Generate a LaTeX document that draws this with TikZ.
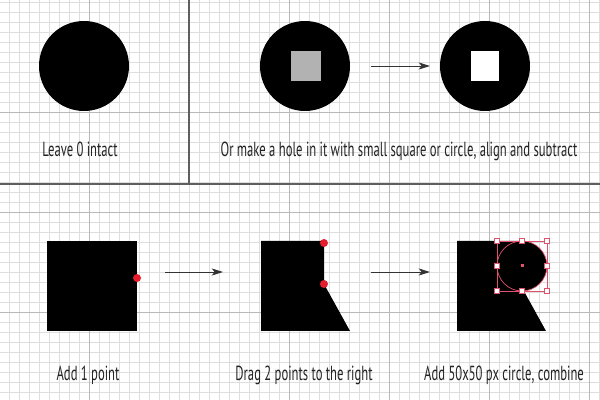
\documentclass[tikz,border=0pt]{standalone}
\usepackage{fontspec}
\setmainfont{PT Sans}[FakeStretch=0.62]
\usetikzlibrary{arrows.meta}
\definecolor{gridminor}{RGB}{222,222,222}
\definecolor{gridmajor}{RGB}{185,185,185}
\definecolor{divider}{RGB}{95,95,95}
\definecolor{pointred}{RGB}{228,28,44}
\definecolor{selpink}{RGB}{222,82,108}
\definecolor{holegray}{RGB}{178,178,178}
\definecolor{captiongray}{RGB}{35,35,35}

\begin{document}
\begin{tikzpicture}[x=0.025cm,y=-0.025cm,
    caption/.style={anchor=base,text=captiongray,font=\fontsize{14.5}{16}\selectfont},
    steparrow/.style={draw=black!80,line width=0.7pt,-{Stealth[length=8pt,width=5pt,inset=2pt]}},
    redpoint/.style={fill=pointred},
    handle/.style={draw=selpink,fill=white,line width=0.5pt,minimum size=3.6pt,inner sep=0pt,rectangle}]
    \useasboundingbox (0,0) rectangle (600,400);
    % background grid
    \foreach \gx in {9,19,...,599} \draw[gridminor,line width=0.5pt] (\gx,0) -- (\gx,400);
    \foreach \gy in {2,12,...,392} \draw[gridminor,line width=0.5pt] (0,\gy) -- (600,\gy);
    \foreach \gx in {89,289,389,489,589} \draw[gridmajor,line width=0.6pt] (\gx,0) -- (\gx,400);
    \foreach \gy in {112,212,312} \draw[gridmajor,line width=0.6pt] (0,\gy) -- (600,\gy);
    \draw[divider,line width=1.4pt] (189,0) -- (189,184);
    \draw[divider,line width=1.4pt] (0,184) -- (600,184);

    % top left
    \fill (84,66) circle (45);
    \node[caption] (leave) at (80,157) {Leave 0 intact};

    % top right
    \fill (305,66) circle (45);
    \fill[holegray] (290.5,51.5) rectangle (320.5,81.5);
    \fill (485,66) circle (45);
    \fill[white] (470.5,51.5) rectangle (499,81.5);
    \coordinate (holefrom) at (371,66);
    \coordinate (holeto) at (430,66);
    \draw[steparrow] (holefrom) -- (holeto);
    \node[caption] (hole) at (399,157) {Or make a hole in it with small square or circle, align and subtract};

    % bottom row
    \fill (47,241) rectangle (137,331);
    \fill[redpoint] (137,278) circle (4);
    \node[caption] (addpoint) at (88,380) {Add 1 point};

    \coordinate (dragfrom) at (165,272);
    \coordinate (dragto) at (223,272);
    \draw[steparrow] (dragfrom) -- (dragto);

    \fill (261,241) -- (324,241) -- (324,284) -- (350,331) -- (261,331) -- cycle;
    \fill[redpoint] (324,243) circle (4);
    \fill[redpoint] (324,284) circle (4);
    \node[caption] (dragpoints) at (304,380) {Drag 2 points to the right};

    \coordinate (combfrom) at (371,272);
    \coordinate (combto) at (430,272);
    \draw[steparrow] (combfrom) -- (combto);

    \fill (457,241) -- (520,241) -- (520,284) -- (546,331) -- (457,331) -- cycle;
    \fill (522,266) circle (25);
    \draw[selpink,line width=0.5pt] (522,266) circle (25);
    \draw[selpink,line width=0.5pt] (497,241) rectangle (547,291);
    \foreach \hx/\hy in {497/241,522/241,547/241,497/266,547/266,497/291,522/291,547/291}
        \node[handle] at (\hx,\hy) {};
    \fill[selpink] (520.5,264.5) rectangle (523.5,267.5);
    \node[caption] (combine) at (504,380) {Add 50x50 px circle, combine};
\end{tikzpicture}
\end{document}
